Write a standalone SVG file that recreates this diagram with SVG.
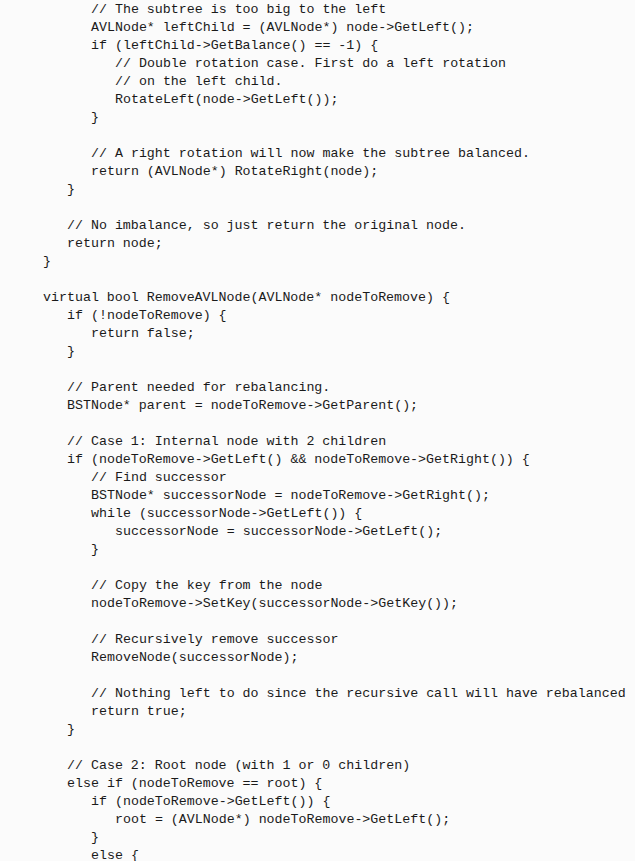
<svg xmlns="http://www.w3.org/2000/svg" width="635" height="861" viewBox="0 0 635 861">
<style>
text{font-family:"Liberation Mono","DejaVu Sans Mono",monospace;font-size:13.3px;fill:#1a1a1a;white-space:pre}
</style>
<rect width="635" height="861" fill="#fbfbfb"/>
<g id="code">
<text x="91" y="13">// The subtree is too big to the left</text>
<text x="91" y="31">AVLNode* leftChild = (AVLNode*) node-&gt;GetLeft();</text>
<text x="91" y="49">if (leftChild-&gt;GetBalance() == -1) {</text>
<text x="115" y="67">// Double rotation case. First do a left rotation</text>
<text x="115" y="85">// on the left child.</text>
<text x="115" y="103">RotateLeft(node-&gt;GetLeft());</text>
<text x="91" y="121">}</text>
<text x="91" y="157">// A right rotation will now make the subtree balanced.</text>
<text x="91" y="175">return (AVLNode*) RotateRight(node);</text>
<text x="67" y="193">}</text>
<text x="67" y="229">// No imbalance, so just return the original node.</text>
<text x="67" y="247">return node;</text>
<text x="43" y="265">}</text>
<text x="43" y="301">virtual bool RemoveAVLNode(AVLNode* nodeToRemove) {</text>
<text x="67" y="319">if (!nodeToRemove) {</text>
<text x="91" y="337">return false;</text>
<text x="67" y="355">}</text>
<text x="67" y="391">// Parent needed for rebalancing.</text>
<text x="67" y="409">BSTNode* parent = nodeToRemove-&gt;GetParent();</text>
<text x="67" y="445">// Case 1: Internal node with 2 children</text>
<text x="67" y="463">if (nodeToRemove-&gt;GetLeft() &amp;&amp; nodeToRemove-&gt;GetRight()) {</text>
<text x="91" y="481">// Find successor</text>
<text x="91" y="499">BSTNode* successorNode = nodeToRemove-&gt;GetRight();</text>
<text x="91" y="517">while (successorNode-&gt;GetLeft()) {</text>
<text x="115" y="535">successorNode = successorNode-&gt;GetLeft();</text>
<text x="91" y="553">}</text>
<text x="91" y="589">// Copy the key from the node</text>
<text x="91" y="607">nodeToRemove-&gt;SetKey(successorNode-&gt;GetKey());</text>
<text x="91" y="643">// Recursively remove successor</text>
<text x="91" y="661">RemoveNode(successorNode);</text>
<text x="91" y="697">// Nothing left to do since the recursive call will have rebalanced</text>
<text x="91" y="715">return true;</text>
<text x="67" y="733">}</text>
<text x="67" y="769">// Case 2: Root node (with 1 or 0 children)</text>
<text x="67" y="787">else if (nodeToRemove == root) {</text>
<text x="91" y="805">if (nodeToRemove-&gt;GetLeft()) {</text>
<text x="115" y="823">root = (AVLNode*) nodeToRemove-&gt;GetLeft();</text>
<text x="91" y="841">}</text>
<text x="91" y="859">else {</text>
</g>
</svg>
